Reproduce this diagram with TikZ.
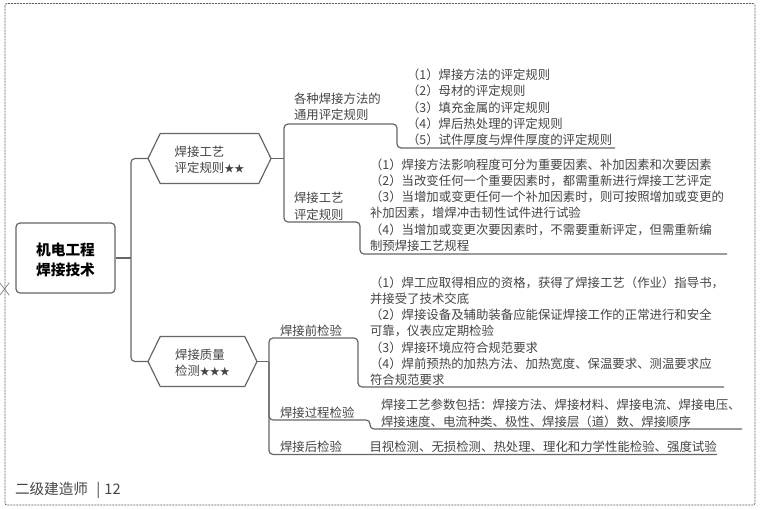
\documentclass[tikz,border=0pt]{standalone}
\usepackage{fontspec}
\setmainfont{Noto Sans CJK SC}
\usetikzlibrary{shapes.symbols, shapes.misc}
\definecolor{ink}{HTML}{444444}
\definecolor{wire}{HTML}{666666}
\newcommand{\starmark}[1]{{\fontsize{10}{10}\selectfont #1}}
\tikzset{
  txt/.style={anchor=north west, inner sep=0pt, outer sep=0pt, align=left, text=ink,
    font=\fontsize{12.4}{16.25}\selectfont},
  hex/.style={shape=signal, signal to=west and east, draw=wire, line width=1.2pt, fill=white,
    inner sep=0pt, outer sep=0pt, align=left, text=ink, minimum height=50pt, text height=29pt,
    signal pointer angle=128, font=\fontsize{12.4}{16.25}\selectfont},
  conn/.style={draw=wire, line width=1.2pt, rounded corners=4pt},
}
\begin{document}
\begin{tikzpicture}[x=1pt, y=-1pt]
\useasboundingbox (0,0) rectangle (760,509);
\draw[draw=black!65, dash pattern=on 2pt off 1pt, line width=0.7pt, rounded corners=2pt] (5,3.5) rectangle (755,505);
\node[draw=black!50, cross out, minimum width=9pt, minimum height=12pt, inner sep=0pt, line width=0.7pt] (mark) at (4.5,289) {};

\node[draw=wire, line width=1.2pt, rounded corners=4pt, minimum width=99pt, minimum height=70pt, text height=37pt,
  inner sep=0pt, align=center, font=\fontsize{14.7}{20}\selectfont\bfseries] (root) at (65.5,258) {机电工程\\焊接技术};

\node[hex, minimum width=123pt] (hexA) at (209.5,158.5) {焊接工艺\\评定规则\starmark{★★}};
\node[hex, minimum width=109pt] (hexB) at (202.5,361.5) {焊接质量\\检测\starmark{★★★}};

% trunk
\coordinate (trunk) at (131,258);
\draw[conn] (root.east) -- (trunk);
\draw[conn] (hexA.west) -| (trunk) |- (hexB.west);

% upper branch
\coordinate (forkA) at (284,158.5);
\coordinate (bendA) at (397,124);
\coordinate (endA) at (615,148);
\coordinate (bendB) at (360,222);
\coordinate (endB) at (727,254);
\draw[conn] (hexA.east) -- (forkA);
\draw[conn] (forkA) |- (bendA) |- (endA);
\draw[conn] (forkA) |- (bendB) |- (endB);

% lower branch
\coordinate (forkB) at (269,361.5);
\coordinate (bendC) at (358,338);
\coordinate (endC) at (724,387);
\coordinate (bendD) at (370,420);
\coordinate (endD) at (742,429);
\coordinate (endE) at (717,454.5);
\draw[conn] (hexB.east) -- (forkB);
\draw[conn] (forkB) |- (bendC) |- (endC);
\draw[conn] (forkB) |- (bendD) |- (endD);
\draw[conn] (forkB) |- (endE);

\node[txt] (weldRules) at (294,92.5) {各种焊接方法的\\通用评定规则};
\node[txt] (ruleList) at (407,69) {（1）焊接方法的评定规则\\（2）母材的评定规则\\（3）填充金属的评定规则\\（4）焊后热处理的评定规则\\（5）试件厚度与焊件厚度的评定规则};
\node[txt] (procRules) at (294,192.5) {焊接工艺\\评定规则};
\node[txt] (procList) at (370,158.5) {（1）焊接方法影响程度可分为重要因素、补加因素和次要因素\\（2）当改变任何一个重要因素时，都需重新进行焊接工艺评定\\（3）当增加或变更任何一个补加因素时，则可按照增加或变更的\\补加因素，增焊冲击韧性试件进行试验\\（4）当增加或变更次要因素时，不需要重新评定，但需重新编\\制预焊接工艺规程};

\node[txt] (before) at (280,324.5) {焊接前检验};
\node[txt] (beforeList) at (370,276.5) {（1）焊工应取得相应的资格，获得了焊接工艺（作业）指导书，\\并接受了技术交底\\（2）焊接设备及辅助装备应能保证焊接工作的正常进行和安全\\可靠，仪表应定期检验\\（3）焊接环境应符合规范要求\\（4）焊前预热的加热方法、加热宽度、保温要求、测温要求应\\符合规范要求};
\node[txt] (during) at (280,406.5) {焊接过程检验};
\node[txt] (duringList) at (381,399.5) {焊接工艺参数包括：焊接方法、焊接材料、焊接电流、焊接电压、\\焊接速度、电流种类、极性、焊接层（道）数、焊接顺序};
\node[txt] (after) at (280,440.5) {焊接后检验};
\node[txt] (afterList) at (369.5,440.5) {目视检测、无损检测、热处理、理化和力学性能检验、强度试验};

\node[txt, font=\fontsize{14.6}{18}\selectfont] (footer) at (15,482) {二级建造师\hspace{5pt} | \hspace{1pt}12};
\end{tikzpicture}
\end{document}
